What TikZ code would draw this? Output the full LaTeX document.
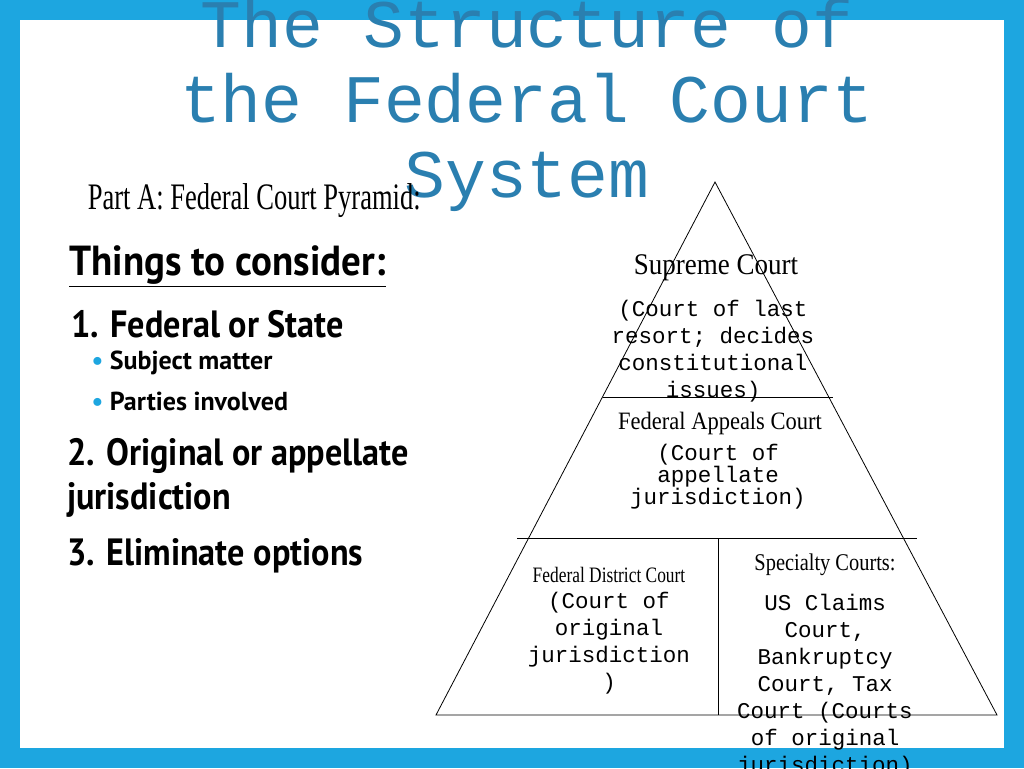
\documentclass[tikz,border=0pt]{standalone}
\usepackage{fontspec}
\setmainfont{Liberation Serif}
\newfontfamily\monof{Liberation Mono}
\newfontfamily\sansf{PT Sans}
\definecolor{frame}{HTML}{1DA6E0}
\definecolor{ttl}{HTML}{2A7FB0}
\begin{document}
\begin{tikzpicture}[x=1pt,y=-1pt,
  mono/.style={font=\monof\fontsize{22.5}{27}\selectfont,align=center},
  cond/.style={xscale=0.78,transform shape},
  ssb/.style={font=\sansf\bfseries\fontsize{38}{42}\selectfont,anchor=west,xscale=0.9,transform shape},
  bul/.style={font=\sansf\bfseries\fontsize{26}{30}\selectfont,anchor=west},
  line/.style={black,line width=0.8pt}]
\useasboundingbox (0,0) rectangle (1024,768);
\fill[frame] (0,0) rectangle (1024,768);
\fill[white] (20,20) rectangle (1004,748);
\node[font=\monof\fontsize{68}{75}\selectfont,text=ttl,align=center] (title) at (527,105) {The Structure of\\the Federal Court\\System};
\node[cond,font=\fontsize{34}{36}\selectfont,anchor=west,yscale=1.1] (part) at (85,201) {Part A: Federal Court Pyramid:};
\node[ssb,font=\sansf\bfseries\fontsize{42}{44}\selectfont,xscale=1.03] (things) at (66,266) {\underline{Things to consider:}};
\node[ssb] (i1) at (68,324) {1. Federal or State};
\node[bul] (b1) at (88,363) {\textcolor{frame}{\textbullet}\ Subject matter};
\node[bul] (b2) at (88,401) {\textcolor{frame}{\textbullet}\ Parties involved};
\node[ssb,align=left,font=\sansf\bfseries\fontsize{38}{44}\selectfont] (i2) at (64,478) {2. Original or appellate\\jurisdiction};
\node[ssb] (i3) at (64,556) {3. Eliminate options};
\coordinate (apex) at (715,182);
\coordinate (bl) at (436,715);
\coordinate (br) at (997,715);
\draw[line] (apex) -- (bl) -- (br) -- cycle;
\draw[line] (603,397) -- (833,397);
\draw[line] (517,538) -- (917,538);
\draw[line] (718,538) -- (718,715);
\node[font=\fontsize{30}{30}\selectfont,xscale=0.9,transform shape] (sc) at (716,268) {Supreme Court};
\node[mono] (sct) at (713,351) {(Court of last\\resort; decides\\constitutional\\issues)};
\node[font=\fontsize{25}{30}\selectfont,xscale=0.9,transform shape] (fa) at (720,423) {Federal Appeals Court};
\node[mono,font=\monof\fontsize{22.5}{19}\selectfont] (fat) at (718,477) {(Court of\\appellate\\jurisdiction)};
\node[font=\fontsize{22}{30}\selectfont,xscale=0.79,transform shape] (fd) at (609,575) {Federal District Court};
\node[mono] (fdt) at (609,643) {(Court of\\original\\jurisdiction\\)};
\node[font=\fontsize{24}{30}\selectfont,xscale=0.85,transform shape] (sp) at (825,565) {Specialty Courts:};
\node[mono] (spt) at (825,686) {US Claims\\Court,\\Bankruptcy\\Court, Tax\\Court (Courts\\of original\\jurisdiction)};
\end{tikzpicture}
\end{document}
